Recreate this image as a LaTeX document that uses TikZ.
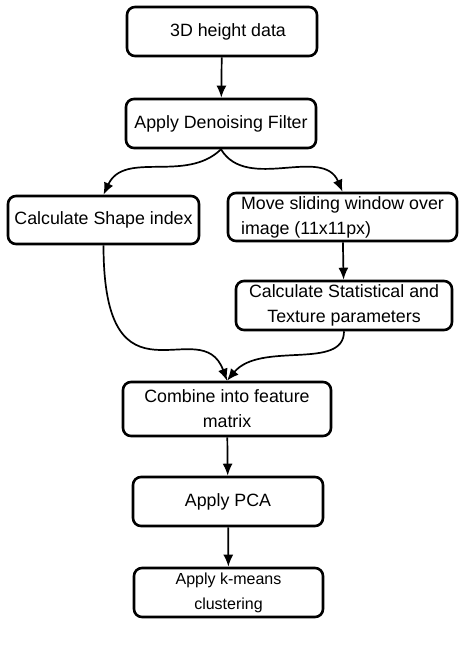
\documentclass[tikz,border=0pt]{standalone}
\usepackage{fontspec}
\setmainfont{Liberation Sans}
\usetikzlibrary{arrows.meta}

\tikzset{
  stepbox/.style={draw, rounded corners=4pt, line width=1.3pt, inner sep=0pt,
    align=center, font=\fontsize{8.9}{12.5}\selectfont},
  flow/.style={arrows={-Latex[length=6pt, width=5pt]}, line width=0.85pt}
}

\begin{document}
\begin{tikzpicture}[x=0.5pt, y=-0.5pt]
\useasboundingbox (0,0) rectangle (474,646);
% boxes
\node[stepbox, minimum width=95pt, minimum height=24.5pt] at (222,31.5) (data) {\hspace{6pt}3D height data};
\node[stepbox, minimum width=95pt, minimum height=24.5pt] at (221,123.5) (den) {Apply Denoising Filter};
\node[stepbox, minimum width=95.5pt, minimum height=24pt] at (103.5,220) (shape) {Calculate Shape index};
\node[stepbox, minimum width=114.5pt, minimum height=24pt, align=left] at (342.5,217) (move) {Move sliding window over\\image (11x11px)};
\node[stepbox, minimum width=108pt, minimum height=24.5pt] at (344,305.5) (stat) {Calculate Statistical and\\Texture parameters};
\node[stepbox, minimum width=104pt, minimum height=27pt] at (227,409) (comb) {Combine into feature\\matrix};
\node[stepbox, minimum width=95pt, minimum height=24.5pt] at (228,501.5) (pca) {Apply PCA};
\node[stepbox, minimum width=94.5pt, minimum height=24.5pt, font=\fontsize{8}{12.5}\selectfont] at (228.5,592.5) (kmeans) {Apply k-means\\clustering};
% connectors
\draw[flow] (data) -- (den);
\draw[flow] (den.south) to [out=-136, in=65] (shape.north);
\draw[flow] (den.south) to [out=-59, in=113] (move.north);
\draw[flow] (move) -- (stat);
\draw[flow] (shape.south) to [out=-90, in=110, out looseness=2.4, in looseness=1.05] (comb.north);
\draw[flow] (stat.south) to [out=-90, in=50, out looseness=0.8, in looseness=1.05] (comb.north);
\draw[flow] (comb) -- (pca);
\draw[flow] (pca) -- (kmeans);
\end{tikzpicture}
\end{document}
